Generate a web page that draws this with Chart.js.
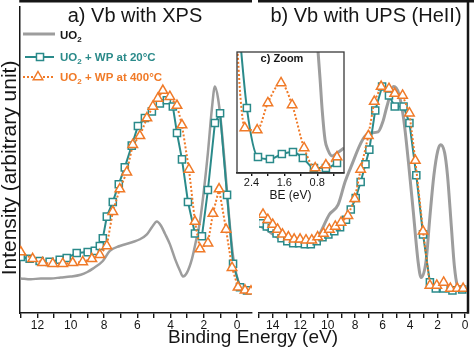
<!DOCTYPE html>
<html>
<head>
<meta charset="utf-8">
<script src="https://cdn.jsdelivr.net/npm/chart.js@4.4.0/dist/chart.umd.min.js"></script>
<style>
html, body { margin: 0; padding: 0; background: #fff; }
#wrap { position: relative; width: 474px; height: 349px; overflow: hidden; }
#wrap canvas { position: absolute; left: 0; top: 0; }
</style>
</head>
<body>
<div id="wrap">
  <canvas id="xps" width="474" height="349"></canvas>
  <canvas id="ups" width="474" height="349"></canvas>
  <canvas id="zoom" width="474" height="349"></canvas>
</div>
<script>
// ---- data (binding energy in eV, intensity in arbitrary units 0-100) ----

// a) valence band with XPS
const xpsUO2E = [13.0, 12.4, 11.8, 11.2, 10.6, 10.0, 9.4, 9.0, 8.67, 8.07, 7.65, 7.05, 6.27, 5.84, 5.42, 5.12, 4.82, 4.58, 4.34, 4.04, 3.73, 3.43, 3.25, 3.01, 2.71, 2.47, 2.23, 1.99, 1.75, 1.51, 1.33, 1.14, 0.96, 0.72, 0.48, 0.24, -0.06, -0.42, -0.9];
const xpsUO2I = [11.3, 11.0, 11.3, 11.3, 11.6, 11.9, 12.5, 13.4, 14.5, 17.0, 20.3, 21.9, 23.2, 24.1, 25.7, 28.0, 29.9, 28.6, 26.0, 22.5, 17.7, 13.8, 11.9, 13.2, 17.7, 23.5, 29.9, 40.2, 52.4, 66.9, 74.0, 70.1, 62.0, 47.6, 31.5, 18.6, 10.6, 7.4, 6.8];

const xps20E = [13.0, 12.47, 11.87, 11.27, 10.66, 10.24, 9.64, 8.98, 8.55, 8.25, 8.07, 7.83, 7.47, 7.11, 6.75, 6.33, 5.96, 5.54, 5.12, 4.64, 4.22, 3.86, 3.61, 3.31, 2.95, 2.53, 2.11, 1.75, 1.33, 1.02, 0.60, 0.24, -0.18, -0.60];
const xps20I = [18.3, 17.7, 17.0, 16.7, 17.4, 18.0, 19.6, 19.9, 20.3, 21.9, 24.4, 31.5, 36.3, 42.1, 47.6, 54.7, 61.1, 63.7, 65.9, 68.5, 69.5, 67.5, 58.8, 50.2, 36.3, 26.0, 25.1, 40.2, 62.1, 65.3, 38.6, 16.1, 8.4, 7.4];

const xps400E = [13.0, 12.29, 11.69, 11.08, 10.48, 9.88, 9.28, 8.73, 8.25, 7.83, 7.47, 7.05, 6.63, 6.27, 5.84, 5.42, 5.06, 4.76, 4.46, 4.04, 3.61, 3.31, 2.89, 2.53, 2.23, 1.75, 1.45, 1.08, 0.66, 0.30, -0.06, -0.48, -0.84];
const xps400I = [19.9, 17.7, 16.4, 16.1, 16.1, 16.4, 16.7, 17.7, 19.0, 21.9, 33.1, 40.5, 46.0, 55.0, 57.9, 63.7, 67.5, 70.1, 72.7, 70.7, 67.8, 61.4, 46.9, 29.9, 20.9, 22.8, 32.5, 40.5, 27.3, 14.8, 8.4, 7.4, 7.1];

// b) valence band with UPS (HeII)
const upsUO2E = [15.0, 14.5, 14.0, 13.3, 12.6, 11.9, 11.3, 10.9, 10.66, 9.88, 9.24, 8.74, 8.32, 7.46, 6.97, 6.33, 5.97, 5.69, 5.19, 4.83, 4.48, 4.12, 3.77, 3.41, 3.20, 2.84, 2.56, 2.27, 1.99, 1.78, 1.49, 1.28, 1.00, 0.78, 0.57, 0.28, -0.14];
const upsUO2I = [28.6, 27.5, 25.8, 23.8, 22.5, 22.0, 22.2, 23.5, 25.1, 32.2, 35.4, 42.8, 47.6, 56.6, 58.8, 59.2, 62.7, 67.5, 74.0, 71.7, 63.7, 49.2, 33.1, 16.4, 11.6, 17.0, 31.5, 45.0, 53.0, 55.0, 52.4, 45.0, 28.3, 15.4, 9.0, 7.4, 7.4];

const ups20E = [14.78, 14.43, 14.07, 13.72, 13.36, 12.94, 12.51, 12.08, 11.66, 11.23, 10.80, 10.38, 9.95, 9.52, 9.10, 8.67, 8.32, 7.96, 7.60, 7.25, 6.97, 6.54, 6.04, 5.54, 5.12, 4.48, 4.05, 3.55, 3.06, 2.56, 2.13, 1.56, 0.92, 0.21];
const ups20I = [29.3, 28.3, 27.7, 26.0, 24.4, 23.5, 22.8, 22.8, 22.5, 22.5, 23.5, 24.8, 25.7, 26.7, 28.0, 30.5, 33.8, 37.6, 42.8, 48.6, 53.4, 66.2, 74.0, 71.1, 67.5, 67.5, 62.1, 45.0, 25.7, 10.0, 8.0, 8.0, 7.4, 7.7];

const ups400E = [14.71, 14.36, 14.00, 13.65, 13.29, 12.86, 12.44, 12.01, 11.58, 11.16, 10.73, 10.31, 9.88, 9.45, 9.03, 8.53, 8.03, 7.60, 7.04, 6.61, 6.11, 5.54, 5.12, 4.55, 4.05, 3.62, 3.06, 2.56, 2.06, 1.56, 1.07, 0.57, 0.14];
const ups400I = [32.2, 30.5, 28.9, 27.3, 25.7, 24.8, 24.1, 24.1, 23.8, 23.8, 24.8, 26.0, 27.3, 28.3, 29.6, 31.8, 37.3, 46.9, 57.9, 69.1, 74.0, 73.3, 71.7, 71.1, 65.3, 49.8, 26.7, 9.0, 9.0, 10.0, 8.0, 8.0, 8.0];

// c) zoom on the gap region of the UPS spectra
const zoomUO2E = [0.83, 0.78, 0.73, 0.68, 0.61, 0.54, 0.44, 0.32, 0.15];
const zoomUO2I = [125, 100, 76.9, 52.0, 27.3, 19.0, 14.0, 16.5, 20.7];

const zoom20E = [2.75, 2.51, 2.24, 1.95, 1.66, 1.39, 1.15, 0.88, 0.59, 0.32];
const zoom20I = [140, 53.7, 13.2, 11.6, 15.7, 17.4, 12.4, 4.1, 4.1, 8.3];

const zoom400E = [2.76, 2.66, 2.56, 2.26, 2.00, 1.68, 1.41, 1.12, 0.85, 0.59, 0.32];
const zoom400I = [115, 60, 37.2, 35.5, 57.9, 74.4, 56.2, 20.7, 4.1, 6.6, 13.2];

const seriesNames = ['UO₂', 'UO₂ + WP at 20°C', 'UO₂ + WP at 400°C'];

// ---- styling ----
const FONT = '"Liberation Sans", Arial, Helvetica, sans-serif';
const GRAY = '#9d9d9d';
const TEAL = '#2a8a8a';
const ORANGE = '#f07a28';
const INK = '#161616';

function pts(e, v) {
    return e.map((x, i) => ({ x: x, y: v[i] }));
}

function grayDs(data, w) {
    return {
        label: seriesNames[0], data: data,
        borderColor: GRAY, borderWidth: w,
        pointRadius: 0, cubicInterpolationMode: 'monotone', order: 2
    };
}

function tealDs(data, extra) {
    return Object.assign({
        label: seriesNames[1], data: data,
        borderColor: TEAL, borderWidth: 2,
        pointStyle: 'rect', pointRadius: 5, pointBorderWidth: 1.5,
        pointBackgroundColor: '#fff', pointBorderColor: TEAL, order: 1
    }, extra || {});
}

function orangeDs(data, extra) {
    return Object.assign({
        label: seriesNames[2], data: data,
        borderColor: ORANGE, borderWidth: 2, borderDash: [2, 2],
        pointStyle: 'triangle', pointRadius: 5.5, pointBorderWidth: 1.5,
        pointBackgroundColor: '#fff', pointBorderColor: ORANGE, order: 0
    }, extra || {});
}

function energyAxis(min, max, step, labelEvery, fontSize, tickLen, height, title) {
    return {
        type: 'linear', reverse: true, min: min, max: max,
        ticks: {
            stepSize: step, autoSkip: false, maxRotation: 0, includeBounds: false,
            padding: 0, color: INK, font: { family: FONT, size: fontSize },
            callback: function (v) {
                const k = v / labelEvery;
                if (Math.abs(k - Math.round(k)) > 1e-6) return '';
                return labelEvery < 1 ? v.toFixed(1) : String(Math.round(v));
            }
        },
        grid: { drawOnChartArea: false, drawTicks: true, tickLength: tickLen, color: INK, lineWidth: 1.4 },
        border: { color: INK, width: 1.5 },
        title: title ? { display: true, text: title, color: INK, font: { family: FONT, size: 12 }, padding: { top: 0, bottom: 2 } } : { display: false },
        afterFit: function (s) { s.height = height; }
    };
}

function baseOptions(padding, xAxis, yAxis) {
    return {
        responsive: false, animation: false, devicePixelRatio: 1,
        layout: { padding: padding },
        plugins: { legend: { display: false }, tooltip: { enabled: false } },
        scales: { x: xAxis, y: yAxis }
    };
}

function drawMarker(ctx, kind, x, y, color) {
    ctx.save();
    ctx.fillStyle = '#fff';
    ctx.strokeStyle = color;
    ctx.lineWidth = 1.5;
    ctx.setLineDash([]);
    ctx.beginPath();
    if (kind === 'rect') {
        const s = 5 * Math.SQRT1_2;
        ctx.rect(x - s, y - s, 2 * s, 2 * s);
    } else {
        const r = 5.5;
        ctx.moveTo(x, y - r);
        ctx.lineTo(x + 0.866 * r, y + 0.5 * r);
        ctx.lineTo(x - 0.866 * r, y + 0.5 * r);
        ctx.closePath();
    }
    ctx.fill();
    ctx.stroke();
    ctx.restore();
}

// "UO" + subscript 2 + rest, in bold
function drawLabel(ctx, x, y, text, color) {
    ctx.fillStyle = color;
    ctx.textAlign = 'left';
    ctx.textBaseline = 'alphabetic';
    ctx.font = 'bold 11.5px ' + FONT;
    ctx.fillText('UO', x, y);
    x += ctx.measureText('UO').width;
    ctx.font = 'bold 8px ' + FONT;
    ctx.fillText('2', x, y + 3);
    x += ctx.measureText('2').width;
    ctx.font = 'bold 11.5px ' + FONT;
    ctx.fillText(text.replace('UO₂', ''), x, y);
}

const xpsDecor = {
    id: 'xpsDecor',
    afterDraw: function (chart) {
        const ctx = chart.ctx;
        const a = chart.chartArea;
        ctx.save();
        // top frame
        ctx.strokeStyle = INK;
        ctx.lineWidth = 2.5;
        ctx.beginPath();
        ctx.moveTo(a.left - 0.75, 1.25);
        ctx.lineTo(a.right, 1.25);
        ctx.stroke();

        ctx.fillStyle = INK;
        ctx.textAlign = 'center';
        ctx.textBaseline = 'alphabetic';
        ctx.font = '20px ' + FONT;
        ctx.fillText('a) Vb with XPS', 135, 22);

        ctx.font = '19px ' + FONT;
        ctx.fillText('Binding Energy (eV)', 253, 343);

        ctx.save();
        ctx.translate(10, 168);
        ctx.rotate(-Math.PI / 2);
        ctx.textBaseline = 'middle';
        ctx.font = '21px ' + FONT;
        ctx.fillText('Intensity (arbitrary unit)', 0, 0);
        ctx.restore();

        // legend
        ctx.lineWidth = 3;
        ctx.strokeStyle = GRAY;
        ctx.beginPath(); ctx.moveTo(23, 34); ctx.lineTo(55, 34); ctx.stroke();
        drawLabel(ctx, 60, 39, seriesNames[0], INK);

        ctx.lineWidth = 2;
        ctx.strokeStyle = TEAL;
        ctx.beginPath(); ctx.moveTo(25, 57); ctx.lineTo(54, 57); ctx.stroke();
        drawMarker(ctx, 'rect', 40, 57, TEAL);
        drawLabel(ctx, 60, 61, seriesNames[1], TEAL);

        ctx.strokeStyle = ORANGE;
        ctx.setLineDash([2, 2]);
        ctx.beginPath(); ctx.moveTo(23, 77); ctx.lineTo(54, 77); ctx.stroke();
        ctx.setLineDash([]);
        drawMarker(ctx, 'tri', 38, 77, ORANGE);
        drawLabel(ctx, 60, 81, seriesNames[2], ORANGE);
        ctx.restore();
    }
};

const upsDecor = {
    id: 'upsDecor',
    afterDraw: function (chart) {
        const ctx = chart.ctx;
        const a = chart.chartArea;
        ctx.save();
        ctx.strokeStyle = INK;
        ctx.lineWidth = 2.5;
        ctx.beginPath();
        ctx.moveTo(a.left - 1, 1.25);
        ctx.lineTo(474, 1.25);
        ctx.stroke();
        ctx.beginPath();
        ctx.moveTo(a.right + 1, 0);
        ctx.lineTo(a.right + 1, a.bottom + 0.75);
        ctx.stroke();

        ctx.fillStyle = INK;
        ctx.textAlign = 'center';
        ctx.textBaseline = 'alphabetic';
        ctx.font = '20px ' + FONT;
        ctx.fillText('b) Vb with UPS (HeII)', 366, 22);
        ctx.restore();
    }
};

const zoomDecor = {
    id: 'zoomDecor',
    beforeDraw: function (chart) {
        const ctx = chart.ctx;
        const a = chart.chartArea;
        ctx.save();
        ctx.fillStyle = '#fff';
        ctx.fillRect(a.left, a.top, a.right - a.left, a.bottom - a.top);
        ctx.restore();
    },
    afterDraw: function (chart) {
        const ctx = chart.ctx;
        const a = chart.chartArea;
        ctx.save();
        ctx.strokeStyle = '#3a3a3a';
        ctx.lineWidth = 1.3;
        ctx.strokeRect(a.left, a.top, a.right - a.left, a.bottom - a.top);
        ctx.fillStyle = INK;
        ctx.textAlign = 'center';
        ctx.textBaseline = 'middle';
        ctx.font = 'bold 11px ' + FONT;
        ctx.fillText('c) Zoom', 282, 59);
        ctx.restore();
    }
};

const hiddenY = { min: 0, max: 100, display: false };

new Chart(document.getElementById('xps'), {
    type: 'line',
    data: {
        datasets: [
            orangeDs(pts(xps400E, xps400I)),
            tealDs(pts(xps20E, xps20I)),
            grayDs(pts(xpsUO2E, xpsUO2I), 2.5)
        ]
    },
    options: baseOptions(
        { top: 2, left: 0, right: 222, bottom: 14 },
        energyAxis(-0.9, 13.05, 1, 2, 12, 5, 22),
        {
            min: 0, max: 100,
            ticks: { display: false },
            grid: { display: false, drawTicks: false },
            border: { display: true, color: INK, width: 1.5 },
            afterFit: function (s) { s.width = 20; }
        }
    ),
    plugins: [xpsDecor]
});

new Chart(document.getElementById('ups'), {
    type: 'line',
    data: {
        datasets: [
            orangeDs(pts(ups400E, ups400I)),
            tealDs(pts(ups20E, ups20I)),
            grayDs(pts(upsUO2E, upsUO2I), 3)
        ]
    },
    options: baseOptions(
        { top: 2, left: 259, right: 2, bottom: 14 },
        energyAxis(-0.14, 15, 1, 2, 12, 5, 22),
        hiddenY
    ),
    plugins: [upsDecor]
});

new Chart(document.getElementById('zoom'), {
    type: 'line',
    data: {
        datasets: [
            orangeDs(pts(zoom400E, zoom400I), {
                cubicInterpolationMode: 'monotone',
                pointRadius: function (c) { return c.dataIndex < 2 ? 0 : 5.5; }
            }),
            tealDs(pts(zoom20E, zoom20I), {
                cubicInterpolationMode: 'monotone',
                pointRadius: function (c) { return c.dataIndex < 1 ? 0 : 5; }
            }),
            grayDs(pts(zoomUO2E, zoomUO2I), 3)
        ]
    },
    options: baseOptions(
        { top: 52, left: 237, right: 130, bottom: 144 },
        energyAxis(0.15, 2.75, 0.4, 0.8, 11, 3, 32, 'BE (eV)'),
        hiddenY
    ),
    plugins: [zoomDecor]
});
</script>
</body>
</html>
